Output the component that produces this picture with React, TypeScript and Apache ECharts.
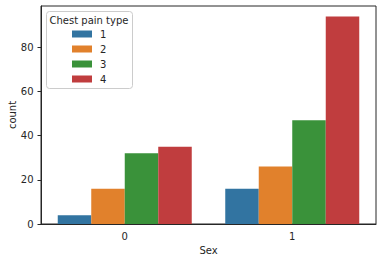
import React, { useEffect, useRef } from "react";
import * as echarts from "echarts";

const sexCategories = ["0", "1"];
const painTypes = ["1", "2", "3", "4"];
const countsType1 = [4, 16];
const countsType2 = [16, 26];
const countsType3 = [32, 47];
const countsType4 = [35, 94];
const yTicks = [0, 20, 40, 60, 80];
const colors = ["#3274a1", "#e1812c", "#3a923a", "#c03d3e"];

const FONT = "DejaVu Sans";
const TXT = "#262626";

export default function App() {
  const ref = useRef<HTMLDivElement>(null);
  useEffect(() => {
    if (!ref.current) return;
    const chart = echarts.init(ref.current, null, { renderer: "svg" });
    const seriesData = [countsType1, countsType2, countsType3, countsType4];
    chart.setOption({
      animation: false,
      textStyle: { fontFamily: FONT },
      grid: {
        left: 41,
        right: 6,
        top: 6,
        bottom: 38,
        show: true,
        borderColor: TXT,
        borderWidth: 1,
        backgroundColor: "transparent",
        containLabel: false,
        outerBoundsMode: "none",
      },
      xAxis: {
        type: "category",
        data: sexCategories,
        name: "Sex",
        nameLocation: "middle",
        nameGap: 21,
        nameMoveOverlap: false,
        nameTextStyle: { fontFamily: FONT, fontSize: 10, color: TXT },
        axisLine: { lineStyle: { color: TXT, width: 1 } },
        axisTick: { alignWithLabel: true, length: 3.5, lineStyle: { color: TXT } },
        axisLabel: { fontFamily: FONT, fontSize: 10, color: TXT, margin: 7 },
        splitLine: { show: false },
      },
      yAxis: {
        type: "value",
        min: 0,
        max: 98.7,
        interval: 20,
        name: "count",
        nameLocation: "middle",
        nameGap: 24,
        nameMoveOverlap: false,
        nameTextStyle: { fontFamily: FONT, fontSize: 10, color: TXT },
        axisLine: { show: true, lineStyle: { color: TXT, width: 1 } },
        axisTick: { show: true, length: 3.5, lineStyle: { color: TXT }, customValues: yTicks },
        axisLabel: { fontFamily: FONT, fontSize: 10, color: TXT, margin: 7.5, customValues: yTicks },
        splitLine: { show: false },
      },
      legend: {
        data: painTypes,
        orient: "vertical",
        left: 72,
        top: 28,
        z: 200,
        itemWidth: 20,
        itemHeight: 7,
        itemGap: 3,
        icon: "rect",
        padding: 0,
        textStyle: { fontFamily: FONT, fontSize: 10, color: TXT, lineHeight: 12, padding: [0, 0, 0, 3] },
        selectedMode: false,
      },
      graphic: [
        {
          type: "rect",
          z: 100,
          shape: { x: 46.5, y: 11.5, width: 86, height: 77, r: 3 },
          style: { fill: "rgba(255,255,255,0.8)", stroke: "#cccccc", lineWidth: 1 },
        },
        {
          type: "text",
          z: 201,
          x: 89,
          y: 20.5,
          style: {
            text: "Chest pain type",
            fontFamily: FONT,
            fontSize: 10,
            fill: TXT,
            align: "center",
            verticalAlign: "middle",
          },
        },
      ],
      series: painTypes.map((p, i) => ({
        name: p,
        type: "bar",
        data: seriesData[i],
        barGap: "0%",
        barCategoryGap: "20%",
        itemStyle: { color: colors[i] },
      })),
    });
    return () => chart.dispose();
  }, []);
  return (
    <div
      ref={ref}
      style={{ position: "absolute", left: 0, top: 0, width: 382, height: 262, background: "#fff" }}
    />
  );
}
